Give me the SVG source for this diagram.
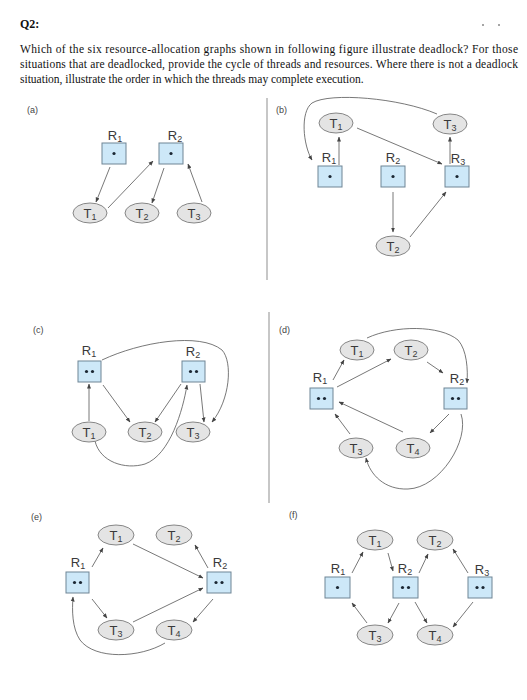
<svg xmlns="http://www.w3.org/2000/svg" width="527" height="700" viewBox="0 0 527 700">
<defs>
<marker id="ah" viewBox="0 0 10 10" refX="9" refY="5" markerWidth="5" markerHeight="5" markerUnits="userSpaceOnUse" orient="auto">
<path d="M0,1 L10,5 L0,9 z" fill="#444"/>
</marker>
<style>
.q{font-family:"Liberation Serif",serif;fill:#111}
.p{font-family:"Liberation Serif",serif;font-size:11.5px;fill:#111}
.pl{font-family:"Liberation Sans",sans-serif;font-size:9px;fill:#444}
.lb{font-family:"Liberation Sans",sans-serif;font-size:13px;fill:#3a3a3a;text-anchor:middle}
.sub{font-size:9px}
.box{fill:#cde8f8;stroke:#6f8595;stroke-width:1}
.th{fill:#e4e4e4;stroke:#7a7a7a;stroke-width:0.9}
.dot{fill:#1b2733}
.e{fill:none;stroke:#555;stroke-width:0.8;marker-end:url(#ah)}
.div{stroke:#b5b5b5;stroke-width:1.5}
</style>
</defs>
<rect width="527" height="700" fill="#fff"/>
<text class="q" x="20" y="28" font-size="12" font-weight="bold">Q2:</text>
<circle cx="483" cy="25" r="0.8" fill="#333"/>
<circle cx="499" cy="25" r="0.8" fill="#333"/>
<text class="p" x="20" y="53" textLength="498" lengthAdjust="spacing">Which of the six resource-allocation graphs shown in following figure illustrate deadlock? For those</text>
<text class="p" x="20" y="68" textLength="498" lengthAdjust="spacing">situations that are deadlocked, provide the cycle of threads and resources. Where there is not a deadlock</text>
<text class="p" x="20" y="83">situation, illustrate the order in which the threads may complete execution.</text>
<line class="div" x1="267" y1="98" x2="267" y2="280"/>
<line class="div" x1="269" y1="312" x2="269" y2="503"/>
<text class="pl" x="27" y="113">(a)</text>
<text class="pl" x="276" y="113">(b)</text>
<text class="pl" x="33" y="333">(c)</text>
<text class="pl" x="279" y="333">(d)</text>
<text class="pl" x="31" y="520">(e)</text>
<text class="pl" x="289" y="518">(f)</text>

<g id="connectors">
<!-- (a) -->
<line class="e" x1="110" y1="167" x2="96" y2="202"/>
<line class="e" x1="108" y1="208" x2="153" y2="161"/>
<line class="e" x1="164" y1="168" x2="152" y2="203"/>
<line class="e" x1="202" y1="202" x2="188" y2="164"/>
<!-- (b) -->
<line class="e" x1="339" y1="165" x2="339" y2="137"/>
<line class="e" x1="357" y1="128" x2="442" y2="164"/>
<line class="e" x1="450" y1="164" x2="450" y2="137"/>
<line class="e" x1="393" y1="192" x2="393" y2="232"/>
<line class="e" x1="410" y1="237" x2="446" y2="192"/>
<path class="e" d="M437,114 C400,98 330,92 312,103 C300,112 303,145 312,160"/>
<!-- (c) -->
<line class="e" x1="89" y1="421" x2="89" y2="384"/>
<line class="e" x1="103" y1="385" x2="130" y2="422"/>
<line class="e" x1="181" y1="384" x2="155" y2="422"/>
<line class="e" x1="200" y1="384" x2="204" y2="422"/>
<path class="e" d="M102,360 C140,342 200,332 222,350 C233,362 230,400 212,422"/>
<path class="e" d="M95,441 C100,462 125,470 145,464 C170,455 183,410 187,385"/>
<!-- (d) -->
<line class="e" x1="333" y1="380" x2="344" y2="360"/>
<line class="e" x1="337" y1="387" x2="391" y2="359"/>
<line class="e" x1="427" y1="362" x2="443" y2="373"/>
<line class="e" x1="449" y1="414" x2="430" y2="433"/>
<line class="e" x1="403" y1="432" x2="339" y2="402"/>
<line class="e" x1="350" y1="434" x2="335" y2="414"/>
<path class="e" d="M367,338 C395,325 440,325 458,340 C467,350 468,370 467,383"/>
<path class="e" d="M461,414 C470,440 440,488 408,489 C385,490 370,475 366,458"/>
<!-- (e) -->
<line class="e" x1="92" y1="567" x2="103" y2="548"/>
<line class="e" x1="133" y1="544" x2="203" y2="578"/>
<line class="e" x1="208" y1="568" x2="195" y2="545"/>
<line class="e" x1="92" y1="599" x2="107" y2="618"/>
<line class="e" x1="133" y1="622" x2="203" y2="588"/>
<line class="e" x1="213" y1="599" x2="193" y2="622"/>
<path class="e" d="M165,643 C140,658 95,660 80,640 C72,628 72,610 73,597"/>
<!-- (f) -->
<line class="e" x1="352" y1="573" x2="363" y2="552"/>
<line class="e" x1="388" y1="553" x2="393" y2="571"/>
<line class="e" x1="419" y1="573" x2="428" y2="554"/>
<line class="e" x1="468" y1="573" x2="453" y2="549"/>
<line class="e" x1="367" y1="623" x2="352" y2="603"/>
<line class="e" x1="399" y1="603" x2="388" y2="623"/>
<line class="e" x1="415" y1="602" x2="427" y2="623"/>
<line class="e" x1="473" y1="602" x2="453" y2="627"/>
</g>

<!-- (a) nodes -->
<g id="a-R1"><rect class="box" x="102" y="143" width="24" height="21"/><circle class="dot" cx="114" cy="153.5" r="1.6"/><text class="lb" x="115" y="140">R<tspan class="sub" dy="2">1</tspan></text></g>
<g id="a-R2"><rect class="box" x="159" y="143" width="24" height="21"/><circle class="dot" cx="171" cy="153.5" r="1.6"/><text class="lb" x="175" y="140">R<tspan class="sub" dy="2">2</tspan></text></g>
<g id="a-T1"><ellipse class="th" cx="90" cy="213" rx="17" ry="10"/><text class="lb" x="90" y="217.5">T<tspan class="sub" dy="2">1</tspan></text></g>
<g id="a-T2"><ellipse class="th" cx="142" cy="213" rx="17" ry="10"/><text class="lb" x="142" y="217.5">T<tspan class="sub" dy="2">2</tspan></text></g>
<g id="a-T3"><ellipse class="th" cx="194" cy="213" rx="17" ry="10"/><text class="lb" x="194" y="217.5">T<tspan class="sub" dy="2">3</tspan></text></g>

<!-- (b) nodes -->
<g id="b-T1"><ellipse class="th" cx="336" cy="123" rx="17" ry="10"/><text class="lb" x="336" y="127.5">T<tspan class="sub" dy="2">1</tspan></text></g>
<g id="b-T3"><ellipse class="th" cx="450" cy="124" rx="17" ry="10"/><text class="lb" x="450" y="128.5">T<tspan class="sub" dy="2">3</tspan></text></g>
<g id="b-R1"><rect class="box" x="318" y="166" width="24" height="21"/><circle class="dot" cx="330" cy="176.5" r="1.6"/><text class="lb" x="329" y="162">R<tspan class="sub" dy="2">1</tspan></text></g>
<g id="b-R2"><rect class="box" x="381" y="166" width="24" height="21"/><circle class="dot" cx="393" cy="176.5" r="1.6"/><text class="lb" x="393" y="162">R<tspan class="sub" dy="2">2</tspan></text></g>
<g id="b-R3"><rect class="box" x="445" y="166" width="24" height="21"/><circle class="dot" cx="457" cy="176.5" r="1.6"/><text class="lb" x="458" y="163">R<tspan class="sub" dy="2">3</tspan></text></g>
<g id="b-T2"><ellipse class="th" cx="393" cy="246" rx="17" ry="10"/><text class="lb" x="393" y="250.5">T<tspan class="sub" dy="2">2</tspan></text></g>

<!-- (c) nodes -->
<g id="c-R1"><rect class="box" x="78" y="361" width="23" height="21"/><circle class="dot" cx="86.5" cy="371.5" r="1.6"/><circle class="dot" cx="92.5" cy="371.5" r="1.6"/><text class="lb" x="89" y="355">R<tspan class="sub" dy="2">1</tspan></text></g>
<g id="c-R2"><rect class="box" x="182" y="361" width="23" height="21"/><circle class="dot" cx="190.5" cy="371.5" r="1.6"/><circle class="dot" cx="196.5" cy="371.5" r="1.6"/><text class="lb" x="193" y="356">R<tspan class="sub" dy="2">2</tspan></text></g>
<g id="c-T1"><ellipse class="th" cx="89" cy="432" rx="17" ry="10"/><text class="lb" x="89" y="436.5">T<tspan class="sub" dy="2">1</tspan></text></g>
<g id="c-T2"><ellipse class="th" cx="145" cy="432" rx="17" ry="10"/><text class="lb" x="145" y="436.5">T<tspan class="sub" dy="2">2</tspan></text></g>
<g id="c-T3"><ellipse class="th" cx="193" cy="432" rx="17" ry="10"/><text class="lb" x="193" y="436.5">T<tspan class="sub" dy="2">3</tspan></text></g>

<!-- (d) nodes -->
<g id="d-T1"><ellipse class="th" cx="357" cy="350" rx="17" ry="10"/><text class="lb" x="357" y="354.5">T<tspan class="sub" dy="2">1</tspan></text></g>
<g id="d-T2"><ellipse class="th" cx="411" cy="350" rx="17" ry="10"/><text class="lb" x="411" y="354.5">T<tspan class="sub" dy="2">2</tspan></text></g>
<g id="d-R1"><rect class="box" x="310" y="388" width="23" height="21"/><circle class="dot" cx="318.5" cy="398.5" r="1.6"/><circle class="dot" cx="324.5" cy="398.5" r="1.6"/><text class="lb" x="320" y="382">R<tspan class="sub" dy="2">1</tspan></text></g>
<g id="d-R2"><rect class="box" x="444" y="388" width="23" height="21"/><circle class="dot" cx="452.5" cy="398.5" r="1.6"/><circle class="dot" cx="458.5" cy="398.5" r="1.6"/><text class="lb" x="457" y="383">R<tspan class="sub" dy="2">2</tspan></text></g>
<g id="d-T3"><ellipse class="th" cx="356" cy="448" rx="17" ry="10"/><text class="lb" x="356" y="452.5">T<tspan class="sub" dy="2">3</tspan></text></g>
<g id="d-T4"><ellipse class="th" cx="413" cy="448" rx="17" ry="10"/><text class="lb" x="413" y="452.5">T<tspan class="sub" dy="2">4</tspan></text></g>

<!-- (e) nodes -->
<g id="e-T1"><ellipse class="th" cx="116" cy="535" rx="18" ry="10"/><text class="lb" x="116" y="539.5">T<tspan class="sub" dy="2">1</tspan></text></g>
<g id="e-T2"><ellipse class="th" cx="174" cy="535" rx="18" ry="10"/><text class="lb" x="174" y="539.5">T<tspan class="sub" dy="2">2</tspan></text></g>
<g id="e-R1"><rect class="box" x="66" y="572" width="23" height="21"/><circle class="dot" cx="74.5" cy="582.5" r="1.6"/><circle class="dot" cx="80.5" cy="582.5" r="1.6"/><text class="lb" x="78" y="567">R<tspan class="sub" dy="2">1</tspan></text></g>
<g id="e-R2"><rect class="box" x="207" y="572" width="24" height="21"/><circle class="dot" cx="216" cy="582.5" r="1.6"/><circle class="dot" cx="222" cy="582.5" r="1.6"/><text class="lb" x="220" y="567">R<tspan class="sub" dy="2">2</tspan></text></g>
<g id="e-T3"><ellipse class="th" cx="116" cy="630" rx="18" ry="10"/><text class="lb" x="116" y="634.5">T<tspan class="sub" dy="2">3</tspan></text></g>
<g id="e-T4"><ellipse class="th" cx="174" cy="630" rx="18" ry="10"/><text class="lb" x="174" y="634.5">T<tspan class="sub" dy="2">4</tspan></text></g>

<!-- (f) nodes -->
<g id="f-T1"><ellipse class="th" cx="375" cy="540" rx="18" ry="10"/><text class="lb" x="375" y="544.5">T<tspan class="sub" dy="2">1</tspan></text></g>
<g id="f-T2"><ellipse class="th" cx="435" cy="540" rx="18" ry="10"/><text class="lb" x="435" y="544.5">T<tspan class="sub" dy="2">2</tspan></text></g>
<g id="f-R1"><rect class="box" x="325" y="577" width="25" height="21"/><circle class="dot" cx="337.5" cy="587.5" r="1.6"/><text class="lb" x="338" y="573">R<tspan class="sub" dy="2">1</tspan></text></g>
<g id="f-R2"><rect class="box" x="393" y="577" width="25" height="21"/><circle class="dot" cx="402.5" cy="587.5" r="1.6"/><circle class="dot" cx="408.5" cy="587.5" r="1.6"/><text class="lb" x="405" y="573">R<tspan class="sub" dy="2">2</tspan></text></g>
<g id="f-R3"><rect class="box" x="468" y="577" width="24" height="21"/><circle class="dot" cx="477" cy="587.5" r="1.6"/><circle class="dot" cx="483" cy="587.5" r="1.6"/><text class="lb" x="482" y="574">R<tspan class="sub" dy="2">3</tspan></text></g>
<g id="f-T3"><ellipse class="th" cx="375" cy="635" rx="18" ry="10"/><text class="lb" x="375" y="639.5">T<tspan class="sub" dy="2">3</tspan></text></g>
<g id="f-T4"><ellipse class="th" cx="435" cy="635" rx="18" ry="10"/><text class="lb" x="435" y="639.5">T<tspan class="sub" dy="2">4</tspan></text></g>
</svg>
